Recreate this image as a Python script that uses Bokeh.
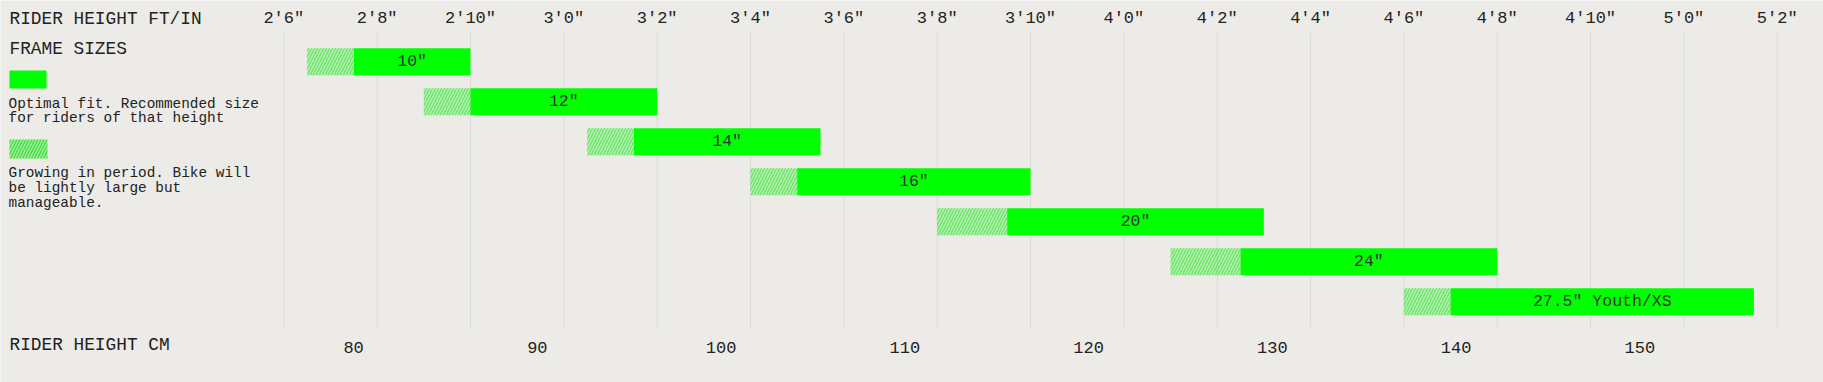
from bokeh.plotting import figure
from bokeh.models import Range1d
from bokeh.core.properties import value
from bokeh.embed import file_html
from bokeh.resources import INLINE

# ---------------- data ----------------
sizes = ['10"', '12"', '14"', '16"', '20"', '24"', '27.5" Youth/XS']
grow_start = [30.5, 33.0, 36.5, 40.0, 44.0, 49.0, 54.0]   # inches, growing-in period start
fit_start = [31.5, 34.0, 37.5, 41.0, 45.5, 50.5, 55.0]    # inches, optimal fit start
fit_end = [34.0, 38.0, 41.5, 46.0, 51.0, 56.0, 61.5]      # inches, optimal fit end

ftin_ticks = [30, 32, 34, 36, 38, 40, 42, 44, 46, 48, 50, 52, 54, 56, 58, 60, 62]
ftin_labels = ["2'6\"", "2'8\"", "2'10\"", "3'0\"", "3'2\"", "3'4\"", "3'6\"", "3'8\"",
               "3'10\"", "4'0\"", "4'2\"", "4'4\"", "4'6\"", "4'8\"", "4'10\"", "5'0\"", "5'2\""]
cm_ticks = [80, 90, 100, 110, 120, 130, 140, 150]
cm_labels = ["80", "90", "100", "110", "120", "130", "140", "150"]

# ---------------- layout ----------------
W, H = 1823, 382
PPI = 46.67            # pixels per inch
X_AT_30 = 283.3        # pixel position of 30 in
ROW0 = 61.3            # pixel centre of first row
ROWH = 40.0            # pixels per row

x_start = 30 - X_AT_30 / PPI
x_end = x_start + W / PPI
y_top = -ROW0 / ROWH
y_bottom = (H - ROW0) / ROWH


def px(xp):
    return x_start + xp / PPI


def py(yp):
    return (yp - ROW0) / ROWH


FONT = value("Liberation Mono")
BG = "#ECEBE7"
GREEN = "#00FF00"
TXT = "#222222"

p = figure(width=W, height=H, x_range=Range1d(x_start, x_end), y_range=Range1d(y_bottom, y_top),
           x_axis_type=None, y_axis_type=None, output_backend="svg", toolbar_location=None,
           min_border=0, outline_line_color=None)
p.background_fill_color = BG
p.border_fill_color = BG

# grid lines at ft/in ticks
p.segment(x0=ftin_ticks, x1=ftin_ticks, y0=[py(32)] * len(ftin_ticks), y1=[py(327)] * len(ftin_ticks),
          line_color="#DCDBD6", line_width=1)

rows = list(range(len(sizes)))
BAR_H = 27 / ROWH

# growing-in (hatched) bars
p.hbar(y=rows, left=grow_start, right=fit_start, height=BAR_H, fill_color=GREEN, fill_alpha=0.2,
       line_color=None, hatch_pattern="/", hatch_color="#00E000", hatch_alpha=0.45,
       hatch_scale=6, hatch_weight=1.4)
# optimal fit bars
p.hbar(y=rows, left=fit_start, right=fit_end, height=BAR_H, fill_color=GREEN, line_color=None)

mid = [(a + b) / 2 for a, b in zip(fit_start, fit_end)]
p.text(x=mid, y=rows, text=sizes, text_font=FONT, text_font_size="16.5px", text_color="#333333",
       text_align="center", text_baseline="middle")

# top tick labels (ft/in)
p.text(x=ftin_ticks, y=[py(18)] * len(ftin_ticks), text=ftin_labels, text_font=FONT,
       text_font_size="17px", text_color=TXT, text_align="center", text_baseline="middle")
# bottom tick labels (cm)
cm_in = [c / 2.54 for c in cm_ticks]
p.text(x=cm_in, y=[py(347)] * len(cm_ticks), text=cm_labels, text_font=FONT,
       text_font_size="17px", text_color=TXT, text_align="center", text_baseline="middle")

# headers
p.text(x=[px(9), px(9), px(9)], y=[py(18), py(48), py(344)],
       text=["RIDER HEIGHT FT/IN", "FRAME SIZES", "RIDER HEIGHT CM"], text_font=FONT,
       text_font_size="17.8px", text_color=TXT, text_align="left", text_baseline="middle")

# legend swatches
p.quad(left=[px(9)], right=[px(46)], top=[py(70)], bottom=[py(88)], fill_color=GREEN, line_color=None)
p.quad(left=[px(9)], right=[px(47)], top=[py(139)], bottom=[py(158)], fill_color=GREEN, fill_alpha=0.3,
       line_color=None, hatch_pattern="/", hatch_color="#00D000", hatch_alpha=0.6,
       hatch_scale=6, hatch_weight=1.4)

legend_lines = ["Optimal fit. Recommended size", "for riders of that height",
                "Growing in period. Bike will", "be lightly large but", "manageable."]
legend_y = [py(103), py(117), py(172), py(187), py(202)]
p.text(x=[px(8)] * len(legend_lines), y=legend_y, text=legend_lines, text_font=FONT,
       text_font_size="14.4px", text_color=TXT, text_align="left", text_baseline="middle")

open("out.html", "w").write(file_html(p, INLINE))
